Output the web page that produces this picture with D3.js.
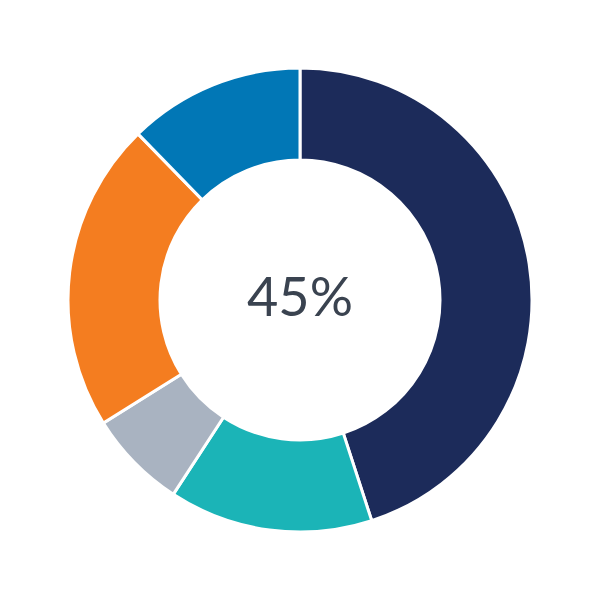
<!DOCTYPE html>
<html><head><meta charset="utf-8">
<script src="https://cdn.jsdelivr.net/npm/d3@7"></script>
<style>html,body{margin:0;padding:0;background:#fff;}</style>
</head><body>
<svg id="chart" width="600" height="600"></svg>
<script>
const categories = ["A", "B", "C", "D", "E"];
const values = [45, 14.2, 6.9, 21.6, 12.3];
const colors = ["#1c2b5a", "#1bb4b7", "#a9b3c1", "#f47d20", "#0177b6"];
const centerLabel = "45%";

const svg = d3.select("#chart");
const g = svg.append("g").attr("transform", "translate(300,300)");
const pie = d3.pie().sort(null).value(d => d.v);
const arc = d3.arc().innerRadius(140).outerRadius(232);
const data = categories.map((c, i) => ({c, v: values[i], col: colors[i]}));
g.selectAll("path").data(pie(data)).join("path")
  .attr("d", arc)
  .attr("fill", d => d.data.col)
  .attr("stroke", "#fff")
  .attr("stroke-width", 3)
  .attr("stroke-linejoin", "miter");
g.append("text").text(centerLabel)
  .attr("x", 0).attr("y", 16)
  .attr("text-anchor", "middle")
  .attr("font-family", "Lato, sans-serif")
  .attr("font-weight", 400)
  .attr("font-size", 54)
  .attr("fill", "#3a4350");
</script>
</body></html>
